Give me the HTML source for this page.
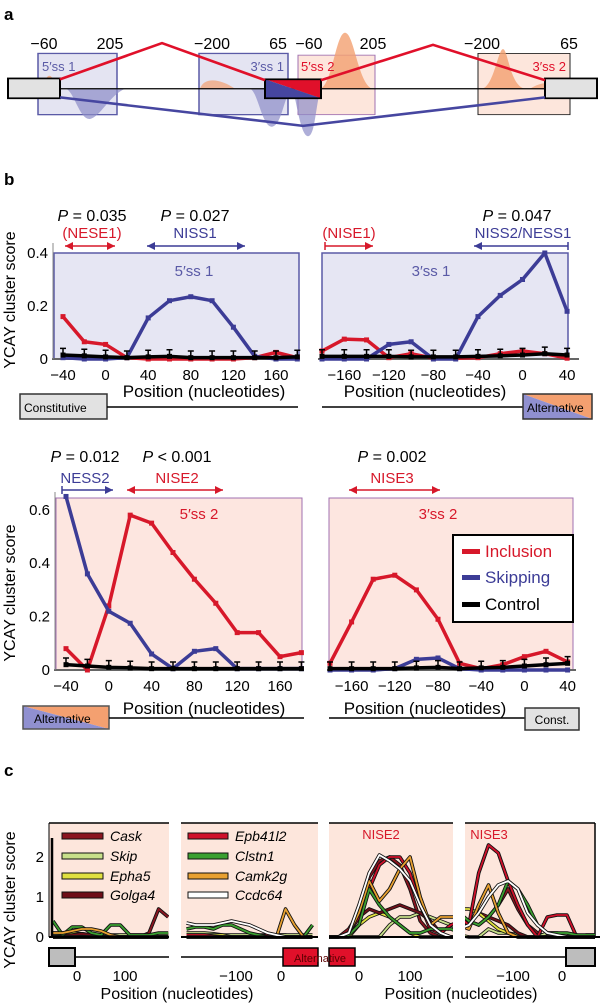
<!DOCTYPE html>
<html><head><meta charset="utf-8">
<style>
html,body{margin:0;padding:0;background:#fff;}
svg{display:block;font-family:"Liberation Sans",sans-serif;}
</style></head>
<body>
<svg id="fig" width="600" height="1003" viewBox="0 0 600 1003" xmlns="http://www.w3.org/2000/svg">
<!-- PANEL A -->
<g>
<text x="4" y="20" font-size="17" font-weight="bold">a</text>
<g transform="matrix(1,0,0,0.862,0,0)">
<rect x="38" y="62" width="79" height="71" fill="#e4e4f2" stroke="#5a5aa6" stroke-width="1.5"/>
<rect x="199" y="62" width="89" height="71" fill="#e4e4f2" stroke="#5a5aa6" stroke-width="1.5"/>
<rect x="298" y="64" width="77" height="69" fill="#fde6dc" stroke="#a070b0" stroke-width="1"/>
<rect x="478" y="62" width="92" height="71" fill="#fde6dc" stroke="#222" stroke-width="1"/>
<path d="M38,103 C44,100 46,86 50,88 C54,90 56,100 62,103 Z" fill="#f2a070" opacity="0.8"/>
<path d="M200,103 C204,88 222,92 235,103 Z" fill="#f2a070" opacity="0.7"/>
<path d="M320,103 C332,100 336,38 345,38 C354,38 358,96 372,103 Z" fill="#f2a070" opacity="0.8"/>
<path d="M482,103 C494,100 498,57 503,57 C508,57 510,100 525,103 Z" fill="#f2a070" opacity="0.8"/>
<path d="M530,103 C540,96 550,92 570,103 Z" fill="#f2a070" opacity="0.7"/>
<path d="M66,103 C74,106 80,140 90,138 C100,136 110,110 125,103 Z" fill="#8c8cc8" opacity="0.7"/>
<path d="M250,103 C258,106 262,148 272,147 C282,146 284,110 292,103 Z" fill="#8c8cc8" opacity="0.7"/>
<path d="M292,103 C296,110 300,158 308,158 C316,158 316,110 322,103 Z" fill="#8c8cc8" opacity="0.7"/>
<line x1="60" y1="103" x2="545" y2="103" stroke="#000" stroke-width="1.5"/>
<rect x="8" y="91" width="52" height="23" fill="#e2e2e2" stroke="#000" stroke-width="2"/>
<polygon points="265,92 321,92 321,114" fill="#e0102a"/>
<polygon points="265,92 321,114 265,114" fill="#4646a0"/>
<rect x="265" y="92" width="56" height="22" fill="none" stroke="#000" stroke-width="2"/>
<rect x="545" y="91" width="52" height="23" fill="#e2e2e2" stroke="#000" stroke-width="2"/>
<polyline points="60,92 162,50 265,93" fill="none" stroke="#e0102a" stroke-width="3"/>
<polyline points="321,93 433,52 545,93" fill="none" stroke="#e0102a" stroke-width="3"/>
<polyline points="60,113 303,146 545,113" fill="none" stroke="#4646a0" stroke-width="3"/>
</g>
<g font-size="16" text-anchor="middle">
<text x="44" y="49">−60</text><text x="110" y="49">205</text>
<text x="212" y="49">−200</text><text x="278" y="49">65</text>
<text x="309" y="49">−60</text><text x="373" y="49">205</text>
<text x="482" y="49">−200</text><text x="569" y="49">65</text>
</g>
<g font-size="13">
<text x="42" y="71" fill="#5a5aa6">5′ss 1</text>
<text x="284" y="71" fill="#5a5aa6" text-anchor="end">3′ss 1</text>
<text x="301" y="71" fill="#e0102a">5′ss 2</text>
<text x="566" y="71" fill="#e0102a" text-anchor="end">3′ss 2</text>
</g>
</g>

<!-- PANEL B -->
<text x="4" y="185" font-size="17" font-weight="bold">b</text>
<g id="pb">
<rect x="54" y="253" width="245" height="106" fill="#e6e6f3" stroke="#5a5aa6" stroke-width="1.5"/>
<rect x="322" y="253" width="246" height="106" fill="#e6e6f3" stroke="#5a5aa6" stroke-width="1.5"/>
<rect x="56" y="498" width="246" height="172" fill="#fde6e0" stroke="#a070b0" stroke-width="1"/>
<rect x="329" y="498" width="244" height="172" fill="#fde6e0" stroke="#a070b0" stroke-width="1"/>
<text x="194" y="276" font-size="15" fill="#5a5aa6" text-anchor="middle">5′ss 1</text>
<text x="431" y="276" font-size="15" fill="#5a5aa6" text-anchor="middle">3′ss 1</text>
<text x="199" y="519" font-size="15" fill="#d7182a" text-anchor="middle">5′ss 2</text>
<text x="438" y="519" font-size="15" fill="#d7182a" text-anchor="middle">3′ss 2</text>
<text transform="translate(15,300) rotate(-90)" font-size="16" text-anchor="middle">YCAY cluster score</text>
<text transform="translate(15,593) rotate(-90)" font-size="16" text-anchor="middle">YCAY cluster score</text>
<g font-size="16" text-anchor="middle">
<text x="92" y="221"><tspan font-style="italic">P</tspan> = 0.035</text>
<text x="195" y="221"><tspan font-style="italic">P</tspan> = 0.027</text>
<text x="517" y="221"><tspan font-style="italic">P</tspan> = 0.047</text>
<text x="85" y="462"><tspan font-style="italic">P</tspan> = 0.012</text>
<text x="177" y="462"><tspan font-style="italic">P</tspan> &lt; 0.001</text>
<text x="392" y="462"><tspan font-style="italic">P</tspan> = 0.002</text>
</g>
<g font-size="15" text-anchor="middle">
<text x="92" y="238" fill="#d7182a">(NESE1)</text>
<text x="195" y="238" fill="#3c3c96">NISS1</text>
<text x="349" y="238" fill="#d7182a">(NISE1)</text>
<text x="523" y="238" fill="#3c3c96">NISS2/NESS1</text>
<text x="85" y="483" fill="#3c3c96">NESS2</text>
<text x="177" y="483" fill="#d7182a">NISE2</text>
<text x="392" y="483" fill="#d7182a">NISE3</text>
</g>
<rect x="20" y="394" width="87" height="25" fill="#e2e2e2" stroke="#333" stroke-width="1.5"/>
<text x="24" y="412" font-size="12">Constitutive</text>
<line x1="107" y1="407" x2="298" y2="407" stroke="#000" stroke-width="1.5"/>
<line x1="322" y1="407" x2="523" y2="407" stroke="#000" stroke-width="1.5"/>
<polygon points="523,394 592,394 592,419" fill="#f4a070"/>
<polygon points="523,394 592,419 523,419" fill="#9090d0"/>
<rect x="523" y="394" width="69" height="25" fill="none" stroke="#333" stroke-width="1.5"/>
<text x="527" y="412" font-size="12">Alternative</text>
<polygon points="23,706 109,706 109,729" fill="#f4a070"/>
<polygon points="23,706 109,729 23,729" fill="#9090d0"/>
<rect x="23" y="706" width="86" height="23" fill="none" stroke="#555" stroke-width="1.5"/>
<text x="34" y="723" font-size="12">Alternative</text>
<line x1="109" y1="718" x2="304" y2="718" stroke="#000" stroke-width="1.5"/>
<line x1="329" y1="718" x2="525" y2="718" stroke="#000" stroke-width="1.5"/>
<rect x="525" y="708" width="54" height="22" fill="#e2e2e2" stroke="#333" stroke-width="1.5"/>
<text x="552" y="724" font-size="12" text-anchor="middle">Const.</text>
<rect x="453" y="535" width="120" height="87" fill="#fff" stroke="#000" stroke-width="2"/>
<g font-size="17">
<rect x="462" y="549" width="18" height="5" fill="#d7182a"/>
<text x="485" y="557" fill="#d7182a">Inclusion</text>
<rect x="462" y="575" width="18" height="5" fill="#3c3c96"/>
<text x="485" y="583" fill="#3c3c96">Skipping</text>
<rect x="462" y="602" width="18" height="5" fill="#000"/>
<text x="485" y="610" fill="#000">Control</text>
</g>
</g>

<!-- PANEL C -->
<text x="4" y="776" font-size="17" font-weight="bold">c</text>
<g id="pc">
<rect x="49" y="823" width="120" height="114" fill="#fde6dc"/>
<rect x="181" y="823" width="137" height="114" fill="#fde6dc"/>
<rect x="329" y="823" width="124" height="114" fill="#fde6dc"/>
<rect x="465" y="823" width="130" height="114" fill="#fde6dc"/>
<g stroke="#000" stroke-width="1.5">
<line x1="49" y1="823" x2="169" y2="823"/><line x1="181" y1="823" x2="318" y2="823"/>
<line x1="329" y1="823" x2="453" y2="823"/><line x1="465" y1="823" x2="595" y2="823"/>
<line x1="595" y1="823" x2="595" y2="937"/>
<line x1="49" y1="823" x2="49" y2="937" stroke-width="1"/>
</g>
<text transform="translate(15,900) rotate(-90)" font-size="16" text-anchor="middle">YCAY cluster score</text>
<text x="381" y="839" font-size="13" fill="#d7182a" text-anchor="middle">NISE2</text>
<text x="489" y="839" font-size="13" fill="#d7182a" text-anchor="middle">NISE3</text>
<line x1="75" y1="957" x2="169" y2="957" stroke="#000" stroke-width="1.5"/>
<line x1="181" y1="957" x2="283" y2="957" stroke="#000" stroke-width="1.5"/>
<line x1="355" y1="957" x2="453" y2="957" stroke="#000" stroke-width="1.5"/>
<line x1="465" y1="957" x2="566" y2="957" stroke="#000" stroke-width="1.5"/>
<rect x="49" y="948" width="26" height="18" fill="#bdbdbd" stroke="#000" stroke-width="2"/>
<rect x="283" y="948" width="35" height="18" fill="#e0102a" stroke="#000" stroke-width="1.5"/>
<rect x="329" y="948" width="26" height="18" fill="#e0102a" stroke="#000" stroke-width="1.5"/>
<text x="320" y="962" font-size="11" fill="#5a0000" text-anchor="middle">Alternative</text>
<rect x="566" y="948" width="29" height="18" fill="#bdbdbd" stroke="#000" stroke-width="2"/>
<text x="177" y="999" font-size="16" text-anchor="middle">Position (nucleotides)</text>
<text x="461" y="999" font-size="16" text-anchor="middle">Position (nucleotides)</text>
</g>
</svg>

<script>
// ---------- Panel b data ----------
const posLeft = [-40,-20,0,20,40,60,80,100,120,140,160,180];
const posRight = [-180,-160,-140,-120,-100,-80,-60,-40,-20,0,20,40];
const ticksLeft = [-40,0,40,80,120,160];
const ticksRight = [-160,-120,-80,-40,0,40];
const yTicksTop = [0,0.2,0.4];
const yTickLabelsTop = ['0','0.2','0.4'];
const yTicksBottom = [0,0.2,0.4,0.6];
const yTickLabelsBottom = ['0','0.2','0.4','0.6'];

const inc5ss1 = [0.16,0.065,0.055,0.005,0,0,0,0,0,0.005,0.025,0.005];
const skip5ss1 = [0.005,0,0,0.005,0.155,0.22,0.235,0.22,0.12,0.01,0,0];
const ctl5ss1 = [0.015,0.012,0.008,0.005,0.008,0.01,0.005,0.005,0.005,0.005,0.005,0.008];

const inc3ss1 = [0.03,0.075,0.072,0.005,0.02,0.003,0.003,0.005,0.02,0.03,0.02,0.003];
const skip3ss1 = [0,0,0,0.055,0.065,0,0,0.16,0.24,0.3,0.4,0.18];
const ctl3ss1 = [0.01,0.01,0.01,0.01,0.008,0.008,0.008,0.01,0.012,0.015,0.02,0.015];

const inc5ss2 = [0.08,0,0.24,0.58,0.55,0.44,0.34,0.25,0.14,0.14,0.05,0.065];
const skip5ss2 = [0.65,0.36,0.22,0.175,0.06,0.005,0.07,0.08,0.005,0.005,0.005,0.005];
const ctl5ss2 = [0.02,0.015,0.01,0.008,0.005,0.005,0.005,0.005,0.005,0.005,0.005,0.005];

const inc3ss2 = [0.025,0.18,0.34,0.355,0.3,0.19,0.025,0.005,0.02,0.05,0.07,0.03];
const skip3ss2 = [0,0,0,0.005,0.04,0.045,0.005,0,0,0,0,0];
const ctl3ss2 = [0.005,0.005,0.005,0.005,0.008,0.01,0.005,0.008,0.01,0.015,0.02,0.025];

const NS='http://www.w3.org/2000/svg';
function mk(tag, attrs, parent){const e=document.createElementNS(NS,tag);for(const k in attrs)e.setAttribute(k,attrs[k]);parent.appendChild(e);return e;}

const pb=document.getElementById('pb');
const pc=document.getElementById('pc');

function drawB(cfg){
  const g=mk('g',{},pb);
  
  
  const xs=v=>cfg.x0+(v-cfg.d0)*cfg.k;
  const ys=v=>cfg.y0-v*cfg.ky;
  const bl=mk('line',{x1:cfg.ax0,y1:cfg.y0,x2:cfg.ax1,y2:cfg.y0,stroke:'#666','stroke-width':2},g);
  
  
  cfg.xticks.forEach(t=>{
    const tx=mk('text',{x:xs(t),y:cfg.y0+21,'font-size':15,'text-anchor':'middle'},g);
    tx.textContent=(t<0?'−'+(-t):String(t));
    
    
  });
  const xl=mk('text',{x:cfg.xlx,y:cfg.y0+cfg.xly,'font-size':17,'text-anchor':'middle'},g);
  xl.textContent='Position (nucleotides)';
  
  
  if(cfg.yticks){
    const ya=mk('line',{x1:cfg.yax,y1:cfg.y0,x2:cfg.yax,y2:cfg.yTop,stroke:'#888','stroke-width':1},g);
    
    
    cfg.yticks.forEach((t,i)=>{
      const tx=mk('text',{x:cfg.yax-5,y:ys(t)+5,'font-size':15,'text-anchor':'end'},g);
      tx.textContent=cfg.ylabels[i];
      
      
    });
  }
  const series=[[cfg.inc,'#d7182a','inclusion-line'],[cfg.skip,'#3c3c96','skipping-line'],[cfg.ctl,'#000','control-line']];
  series.forEach(([vals,col,nm])=>{
    const pts=vals.map((v,i)=>xs(cfg.pos[i])+','+ys(v)).join(' ');
    const pl=mk('polyline',{points:pts,fill:'none',stroke:col,'stroke-width':3.5,'stroke-linejoin':'round'},g);
    
    
    vals.forEach((v,i)=>{
      const m=mk('rect',{x:xs(cfg.pos[i])-2.5,y:ys(v)-2.5,width:5,height:5,fill:col},g);
      
      
      if(nm==='control-line'){
        const eb=mk('path',{d:'M'+xs(cfg.pos[i])+','+ys(v)+'V'+(ys(v)-cfg.ky*0.025)+'m-3,0h6',stroke:'#000','stroke-width':1.5,fill:'none'},g);
        
        
      }
    });
  });
}

drawB({name:'chart-5ss1',pos:posLeft,d0:-40,x0:63,k:1.065,y0:359,ky:265,ax0:52,ax1:299,xticks:ticksLeft,xlx:204,xly:38,yticks:yTicksTop,ylabels:yTickLabelsTop,yax:53,yTop:243,inc:inc5ss1,skip:skip5ss1,ctl:ctl5ss1});
drawB({name:'chart-3ss1',pos:posRight,d0:-180,x0:322,k:1.114,y0:359,ky:265,ax0:318,ax1:579,xticks:ticksRight,xlx:425,xly:38,inc:inc3ss1,skip:skip3ss1,ctl:ctl3ss1});
drawB({name:'chart-5ss2',pos:posLeft,d0:-40,x0:66,k:1.07,y0:670,ky:267,ax0:54,ax1:304,xticks:ticksLeft,xlx:204,xly:44,yticks:yTicksBottom,ylabels:yTickLabelsBottom,yax:55,yTop:492,inc:inc5ss2,skip:skip5ss2,ctl:ctl5ss2});
drawB({name:'chart-3ss2',pos:posRight,d0:-180,x0:330,k:1.08,y0:670,ky:267,ax0:327,ax1:576,xticks:ticksRight,xlx:425,xly:44,inc:inc3ss2,skip:skip3ss2,ctl:ctl3ss2});

const arrowSpecs=[[65,115,246,'#d7182a',true,true],[147,245,246,'#3c3c96',true,true],[325,373,246,'#d7182a',false,true],[474,568,246,'#3c3c96',true,false],[62,113,490,'#3c3c96',false,true],[127,223,490,'#d7182a',true,true],[349,440,490,'#d7182a',true,true]];
arrowSpecs.forEach(([a,b,y,c,l,r])=>{
  const ln=mk('line',{x1:a,y1:y,x2:b,y2:y,stroke:c,'stroke-width':1.5},pb);
  
  
  if(l){const h=mk('polygon',{points:`${a},${y} ${a+8},${y-4} ${a+8},${y+4}`,fill:c},pb);}
  if(r){const h=mk('polygon',{points:`${b},${y} ${b-8},${y-4} ${b-8},${y+4}`,fill:c},pb);}
  if(!l){const t=mk('line',{x1:a,y1:y-4,x2:a,y2:y+4,stroke:c,'stroke-width':1.5},pb);}
  if(!r){const t=mk('line',{x1:b,y1:y-4,x2:b,y2:y+4,stroke:c,'stroke-width':1.5},pb);}
});

// ---------- Panel c data ----------
const genes = ['Cask','Skip','Epha5','Golga4','Epb41l2','Clstn1','Camk2g','Ccdc64'];
const geneColors = ['#8a1520','#c8e08a','#e0e040','#6e0e18','#d0102a','#3aa030','#e8a030','#ffffff'];
const cPos1 = [-50,-30,-10,10,30,50,70,90,110,130,150,170,190];
const cPos2 = [-210,-190,-170,-150,-130,-110,-90,-70,-50,-30,-10,10,30,50,70];
const cPos3 = [-60,-40,-20,0,20,40,60,80,100,120,140,160,180,200];
const cPos4 = [-210,-190,-170,-150,-130,-110,-90,-70,-50,-30,-10,10,30,50,70];
const cTicks1=[0,100], cTicks2=[-100,0], cTicks3=[0,100], cTicks4=[-100,0];
const cYTicks=[0,1,2];

const c1Cask=[0,0,0,0,0,0,0,0,0,0,0.1,0.7,0.5];
const c1Skip=[0.05,0.05,0.05,0.05,0.05,0.05,0.05,0.05,0.05,0.05,0.05,0.05,0.05];
const c1Epha5=[0.1,0.1,0.1,0.08,0.05,0.02,0,0,0,0,0,0,0];
const c1Golga4=[0,0.02,0.05,0.08,0.05,0.02,0,0,0,0,0,0,0];
const c1Epb41l2=[0,0,0,0,0,0,0,0,0,0,0,0,0];
const c1Clstn1=[0.4,0.05,0.25,0.25,0.1,0.05,0.3,0.3,0.05,0.05,0.05,0.1,0.1];
const c1Camk2g=[0.1,0.1,0.15,0.2,0.2,0.15,0.05,0,0,0,0,0,0];
const c1Ccdc64=[0,0,0,0,0,0,0,0,0,0,0,0,0];

const c2Cask=[0,0,0,0,0,0,0,0,0,0,0.05,0.05,0,0,0];
const c2Skip=[0.1,0.1,0.1,0.08,0.05,0.05,0.05,0.05,0.05,0.05,0.05,0.05,0.05,0.05,0.05];
const c2Epha5=[0.05,0.05,0.05,0.05,0.05,0,0,0,0,0,0,0,0,0,0];
const c2Golga4=[0,0,0,0,0,0,0,0,0,0,0,0,0,0,0];
const c2Epb41l2=[0.05,0.05,0.05,0.02,0,0,0,0,0,0.05,0,0,0,0,0];
const c2Clstn1=[0.2,0.25,0.25,0.2,0.3,0.3,0.2,0.1,0.05,0,0,0,0,0,0.3];
const c2Camk2g=[0,0,0,0,0,0,0,0,0,0,0,0.7,0.3,0,0];
const c2Ccdc64=[0.35,0.3,0.3,0.3,0.35,0.4,0.35,0.3,0.2,0.1,0.05,0,0,0,0];

const c3Cask=[0,0,0.2,0.6,1.5,1.9,2.0,1.8,1.2,0.4,0.1,0,0,0];
const c3Skip=[0,0,0,0,0,0,0.3,0.5,0.5,0.6,0.5,0.4,0.3,0.2];
const c3Epha5=[0,0,0,0.3,0.5,0.6,0.5,0.3,0.1,0,0,0,0,0];
const c3Golga4=[0,0,0.1,0.5,0.7,0.6,0.7,0.8,0.7,0.6,0.4,0.1,0,0];
const c3Epb41l2=[0,0,0.1,0.5,1.2,1.8,2.0,2.0,1.6,0.8,0.2,0.1,0.3,0.4];
const c3Clstn1=[0,0,0.05,0.3,1.2,0.8,0.5,0.3,0.1,0.1,0.2,0.2,0.2,0.1];
const c3Camk2g=[0,0,0.1,0.6,1.4,0.9,1.2,1.7,2.0,1.0,0.3,0.5,0.5,0.5];
const c3Ccdc64=[0,0,0.1,0.8,1.6,2.05,1.9,1.7,1.4,0.8,0.3,0.1,0,0];

const c4Cask=[0.3,0.4,0.6,0.5,0.8,1.2,0.7,0.3,0.1,0,0,0,0,0,0];
const c4Skip=[0.05,0,0,0.2,0.1,0.1,0.05,0,0,0.1,0.1,0.05,0.05,0,0];
const c4Epha5=[0.7,0.7,0.6,0.4,0.2,0.1,0,0,0,0,0,0,0,0,0];
const c4Golga4=[0.3,0.4,0.3,0.5,0.4,0.3,0.1,0,0,0,0,0,0,0,0];
const c4Epb41l2=[0.5,0.3,1.6,2.3,2.1,1.4,0.8,0.3,0,0.5,0.55,0.55,0,0.05,0.05];
const c4Clstn1=[0.6,0.4,0.3,0.5,0.8,1.4,1.2,0.8,0.3,0.1,0.1,0.1,0.05,0.05,0.05];
const c4Camk2g=[0.3,0.2,0.8,1.3,0.6,0.1,0,0,0,0,0,0,0,0,0];
const c4Ccdc64=[0.2,0.3,0.6,1.0,1.3,1.4,1.2,0.6,0.3,0.1,0.05,0,0,0,0];

const cY0=937, cKy=40;
const cys=v=>cY0-v*cKy;

function drawC(cfg){
  const g=mk('g',{},pc);
  
  
  const xs=v=>cfg.x0+v*cfg.k;
  const cid='clip'+cfg.name;
  const cp=mk('clipPath',{id:cid},g);
  mk('rect',{x:cfg.l,y:823,width:cfg.r-cfg.l,height:116},cp);
  const lg=mk('g',{'clip-path':'url(#'+cid+')'},g);
  cfg.series.forEach((vals,i)=>{
    const pts=vals.map((v,j)=>xs(cfg.pos[j])+','+cys(v)).join(' ');
    const o=mk('polyline',{points:pts,fill:'none',stroke:'#111','stroke-width':3.6,'stroke-linejoin':'round'},lg);
    
    
    const p=mk('polyline',{points:pts,fill:'none',stroke:geneColors[i],'stroke-width':1.8,'stroke-linejoin':'round'},lg);
    
    
  });
  const bl=mk('line',{x1:cfg.l,y1:cY0,x2:cfg.ar||cfg.r,y2:cY0,stroke:'#000','stroke-width':2},g);
  
  
  cfg.ticks.forEach(t=>{
    const tx=mk('text',{x:xs(t),y:981,'font-size':15,'text-anchor':'middle'},g);
    tx.textContent=(t<0?'−'+(-t):String(t));
    
    
  });
}
drawC({name:'c-chart-1',pos:cPos1,x0:77,k:0.48,l:49,r:169,ticks:cTicks1,series:[c1Cask,c1Skip,c1Epha5,c1Golga4,c1Epb41l2,c1Clstn1,c1Camk2g,c1Ccdc64]});
drawC({name:'c-chart-2',pos:cPos2,x0:281,k:0.45,l:181,r:318,ticks:cTicks2,series:[c2Cask,c2Skip,c2Epha5,c2Golga4,c2Epb41l2,c2Clstn1,c2Camk2g,c2Ccdc64]});
drawC({name:'c-chart-3',pos:cPos3,x0:359,k:0.51,l:329,r:453,ticks:cTicks3,series:[c3Cask,c3Skip,c3Epha5,c3Golga4,c3Epb41l2,c3Clstn1,c3Camk2g,c3Ccdc64]});
drawC({name:'c-chart-4',pos:cPos4,x0:562,k:0.49,l:465,r:595,ar:600,ticks:cTicks4,series:[c4Cask,c4Skip,c4Epha5,c4Golga4,c4Epb41l2,c4Clstn1,c4Camk2g,c4Ccdc64]});

const yax=mk('line',{x1:52,y1:838,x2:52,y2:cY0,stroke:'#000','stroke-width':2.5},pc);


cYTicks.forEach(t=>{
  const tx=mk('text',{x:44,y:cys(t)+5,'font-size':15,'text-anchor':'end'},pc);
  tx.textContent=String(t);
  
  
});

const legX=[62,62,62,62,188,188,188,188];
const legY=[836,856,876,895,836,856,876,895];
genes.forEach((gn,i)=>{
  const o=mk('rect',{x:legX[i],y:legY[i]-3,width:i<4?41:40,height:6,fill:geneColors[i],stroke:'#111','stroke-width':1},pc);
  
  
  const t=mk('text',{x:legX[i]+(i<4?48:47),y:legY[i]+5,'font-size':14,'font-style':'italic'},pc);
  t.textContent=gn;
  
  
});
</script>
</body></html>
